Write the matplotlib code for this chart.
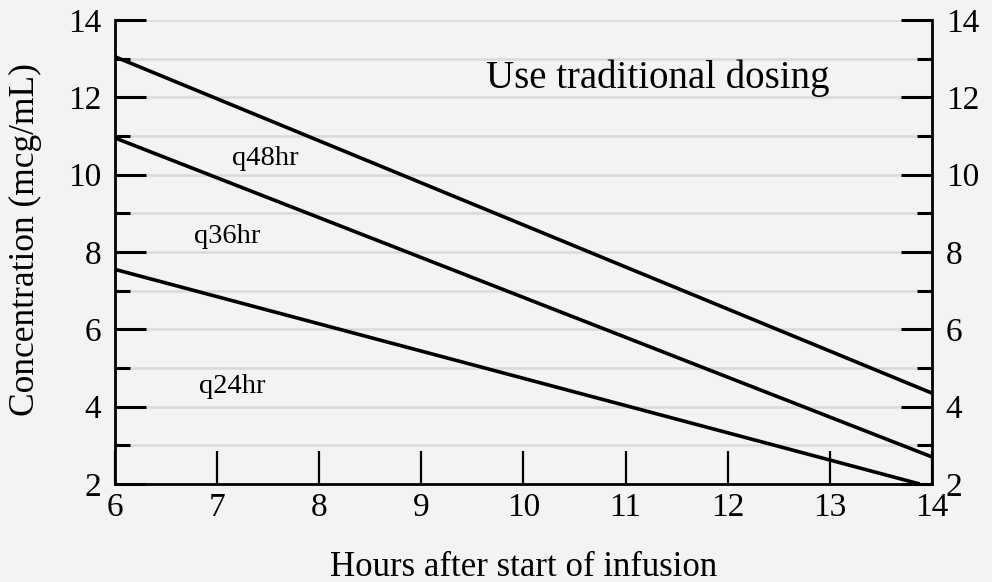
import matplotlib
matplotlib.use("Agg")
import matplotlib.pyplot as plt
from matplotlib.ticker import MultipleLocator

# Data (straight lines, concentration vs hours)
hours_q48 = [6, 14]
conc_q48 = [13.05, 4.35]
hours_q36 = [6, 14]
conc_q36 = [10.95, 2.7]
hours_q24 = [6, 13.88]
conc_q24 = [7.55, 2.0]

series_labels = ["q48hr", "q36hr", "q24hr"]
label_pos = [(7.47, 10.43), (7.10, 8.39), (7.15, 4.53)]

plt.rcParams['font.family'] = ['Liberation Serif', 'DejaVu Serif']
bg = '#f2f3f3'

fig = plt.figure(figsize=(9.92, 5.82), dpi=100, facecolor=bg)
ax = fig.add_axes([0.1159, 0.1684, 0.8236, 0.7972])
ax.set_facecolor(bg)

# horizontal grid at every unit
for yv in range(3, 15):
    ax.axhline(yv, color='#d9dadb', lw=1.8, zorder=1)

for xs, ys in [(hours_q48, conc_q48), (hours_q36, conc_q36), (hours_q24, conc_q24)]:
    ax.plot(xs, ys, color='black', lw=2.6, zorder=3, solid_capstyle='butt')

for lab, (lx, ly) in zip(series_labels, label_pos):
    ax.text(lx, ly, lab, fontsize=20.5, ha='center', va='center', zorder=4)

ax.text(11.31, 12.5, "Use traditional dosing", fontsize=28, ha='center', va='center')

ax.set_xlim(6, 14)
ax.set_ylim(2, 14)

ax.spines['top'].set_visible(False)
for s in ['left', 'right', 'bottom']:
    ax.spines[s].set_linewidth(2)
    ax.spines[s].set_zorder(5)

ax.xaxis.set_major_locator(MultipleLocator(1))
ax.yaxis.set_major_locator(MultipleLocator(2))
ax.yaxis.set_minor_locator(MultipleLocator(1))

ax.tick_params(axis='x', which='major', direction='in', length=24, width=1.6,
               labelsize=24, pad=6, top=False)
ax.tick_params(axis='y', which='major', direction='in', length=22, width=2.2,
               labelsize=24, pad=10, left=True, right=True,
               labelleft=True, labelright=True)
ax.tick_params(axis='y', which='minor', direction='in', length=11, width=2.2,
               left=True, right=True)

ax.set_xlabel("Hours after start of infusion", fontsize=25, labelpad=20)
ax.set_ylabel("Concentration (mcg/mL)", fontsize=25.5)
ax.yaxis.set_label_coords(-0.089, 0.526)

fig.savefig("out.png", dpi=100, facecolor=bg)
